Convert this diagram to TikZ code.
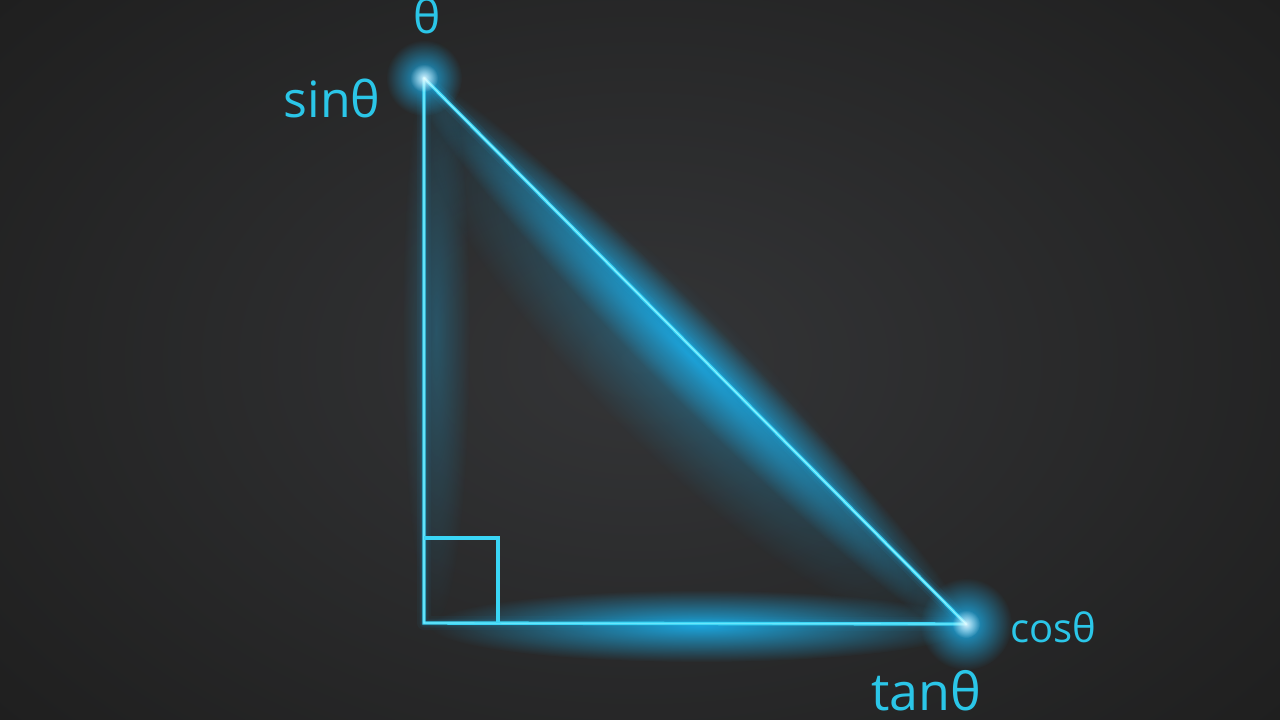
\documentclass[tikz,border=0pt]{standalone}
\usepackage{fontspec}
\setmainfont{Open Sans}
\usetikzlibrary{fadings}
\definecolor{bgc}{HTML}{343537}
\definecolor{bgdark}{HTML}{1F1F1F}
\definecolor{cy}{HTML}{2BC6E8}
\definecolor{cyline}{HTML}{3AD6F6}
\definecolor{cyglow}{HTML}{1BAAE4}
\definecolor{cycore}{HTML}{8AF0FF}
\tikzfading[name=softglow, inner color=transparent!0, outer color=transparent!100]
\tikzset{
  lbl/.style={text=cy, inner sep=0pt, anchor=base},
  glowline/.style={cyglow, line cap=round, line join=round},
  mainline/.style={cyline, line width=3.4pt, line cap=round},
  coreline/.style={cycore, line width=1.2pt, line cap=round},
  blob/.style={fill=cyglow, path fading=softglow},
  whiteblob/.style={fill=white, path fading=softglow},
}
\begin{document}
\begin{tikzpicture}[x=1pt,y=-1pt]
\useasboundingbox (0,0) rectangle (1280,720);
\shade[inner color=bgc, outer color=bgdark] (-200,-200) rectangle (1480,920);
\coordinate (A) at (424,78);
\coordinate (B) at (424,623);
\coordinate (C) at (966,624);
% soft glows along the hypotenuse
\begin{scope}[transform canvas={shift={(690,356)}, rotate=-45.2}]
\fill[blob, opacity=0.9] (0,0) ellipse (400 and 40);
\end{scope}
\begin{scope}[transform canvas={shift={(672,372)}, rotate=-45.2}]
\fill[blob, opacity=0.35] (0,0) ellipse (340 and 75);
\end{scope}
\fill[blob, opacity=0.95] (700,626) ellipse (270 and 36);
\fill[blob, opacity=0.3] (436,330) ellipse (34 and 290);
\fill[blob, opacity=0.95] (A) circle (38);
\fill[blob, opacity=1] (C) circle (46);
% layered line glow
\foreach \w/\o in {14/0.08,9/0.12,6/0.16}{
  \draw[glowline, line width=\w pt, opacity=\o] (A) -- (C);
  \draw[glowline, line width=\w pt, opacity=\o*0.6] (A) -- (B) -- (C);
}
\draw[mainline] (A) -- (C);
\draw[mainline] (A) -- (B) -- (C);
\draw[coreline] (A) -- (C);
\draw[coreline, opacity=0.5] (A) -- (B);
\draw[coreline, opacity=0.6] (B) -- (C);
% right angle mark
\coordinate (R1) at (424,538);
\coordinate (R2) at (498,538);
\coordinate (R3) at (498,623);
\draw[cyline, line width=3.2pt] (R1) -- (R2) -- (R3);
% vertex highlights
\fill[whiteblob, opacity=0.8] (A) circle (14);
\fill[whiteblob, opacity=0.8] (C) circle (14);
% labels
\node[lbl, font=\fontsize{46}{50}\selectfont] (th) at (427,33) {θ};
\node[lbl, font=\fontsize{50}{56}\selectfont] (sin) at (332,117) {sinθ};
\node[lbl, font=\fontsize{40}{46}\selectfont] (cos) at (1053,642) {cosθ};
\node[lbl, font=\fontsize{52}{58}\selectfont] (tan) at (926,710) {tanθ};
\end{tikzpicture}
\end{document}
